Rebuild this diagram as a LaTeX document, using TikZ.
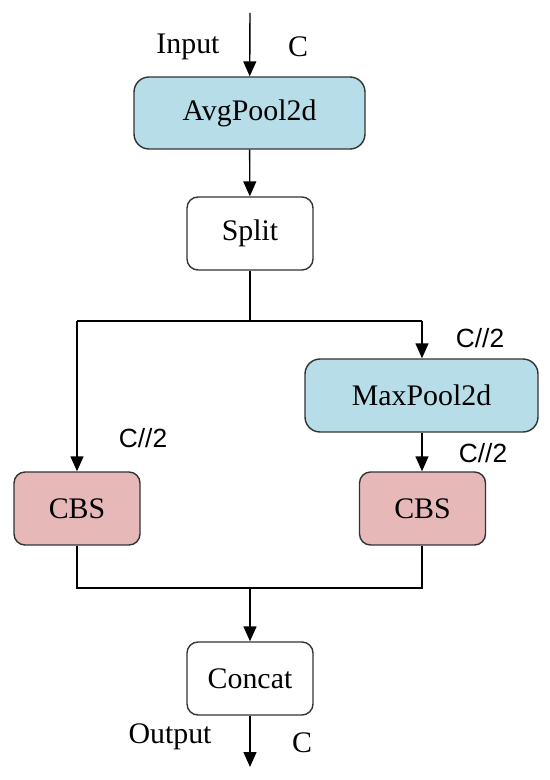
\documentclass[tikz,border=0pt]{standalone}
\usepackage{fontspec}
\setmainfont{Liberation Serif}
\newfontfamily\arialfont{Liberation Sans}
\usepackage{tikz}
\usetikzlibrary{arrows.meta}
\definecolor{poolblue}{HTML}{B7DDE8}
\definecolor{cbspink}{HTML}{E6B8B7}

\begin{document}
\begin{tikzpicture}[x=0.02cm,y=-0.02cm,
  box/.style={draw=black!80,line width=0.8pt,align=center,font=\fontsize{17}{20}\selectfont,inner sep=0pt},
  widebox/.style={box,minimum width=4.62cm,minimum height=1.44cm,rounded corners=0.3cm,fill=poolblue},
  smallbox/.style={box,minimum width=2.52cm,minimum height=1.46cm,rounded corners=0.22cm},
  lab/.style={font=\fontsize{17}{20}\selectfont},
  chan/.style={font=\arialfont\fontsize{15}{18}\selectfont},
  arr/.style={-{Triangle[length=0.3cm,width=0.26cm]},line width=0.8pt},
  ln/.style={line width=0.8pt}]
\useasboundingbox (0,0) rectangle (550,780);
% boxes
\node[widebox] (avg) at (249.5,113) {AvgPool2d};
\node[smallbox,fill=white] (split) at (250,233.5) {Split};
\node[widebox,minimum width=4.66cm,minimum height=1.46cm] (maxp) at (421.5,395.5) {MaxPool2d};
\node[smallbox,fill=cbspink] (cbsl) at (77,508.5) {CBS};
\node[smallbox,fill=cbspink] (cbsr) at (422.5,508.5) {CBS};
\node[smallbox,fill=white] (concat) at (250,678.5) {Concat};
% junctions
\coordinate (in) at (250,13);
\coordinate (out) at (250,767);
\coordinate (sp) at (250,321);
\coordinate (jl) at (77,321);
\coordinate (jr) at (422,321);
\coordinate (ml) at (77,588);
\coordinate (mr) at (422,588);
\coordinate (mc) at (250,588);
% connectors
\draw[arr](in)--(avg);
\draw[arr](avg)--(split);
\draw[ln](split)--(sp);
\draw[ln](jl)--(jr);
\draw[arr](jl)--(cbsl);
\draw[arr](jr)--(maxp.north -| jr);
\draw[arr](maxp.south -| jr)--(cbsr.north -| jr);
\draw[ln](cbsl)--(ml)--(mr)--(cbsr.south -| mr);
\draw[arr](mc)--(concat);
\draw[arr](concat)--(out);
% labels
\node[lab] (inlab) at (188,47) {Input};
\node[lab] (cin) at (298,47) {C};
\node[chan] (c1) at (480,338) {C//2};
\node[chan] (c2) at (143,438) {C//2};
\node[chan] (c3) at (483,453) {C//2};
\node[lab] (outlab) at (170,737) {Output};
\node[lab] (cout) at (302,743) {C};
\end{tikzpicture}
\end{document}
